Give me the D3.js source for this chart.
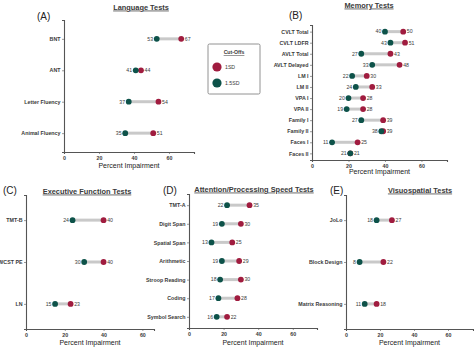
<!DOCTYPE html>
<html>
<head>
<meta charset="utf-8">
<script src="https://cdn.jsdelivr.net/npm/d3@7"></script>
<style>
  body { margin: 0; background: #fff; }
  svg text { font-family: "Liberation Sans", Arial, sans-serif; }
</style>
</head>
<body>
<div id="chart"></div>
<script>
const W = 474, H = 348;
const RED = "#a01c3f", GREEN = "#0d5249", SEG = "#c9c9c9", INK = "#3a3a3a";

// test names and % impaired at each cut-off (1.5SD = low, 1SD = high)
const langTests = ["BNT", "ANT", "Letter Fluency", "Animal Fluency"];
const lang15 = [53, 41, 37, 35];
const lang1 = [67, 44, 54, 51];

const memTests = ["CVLT Total", "CVLT LDFR", "AVLT Total", "AVLT Delayed", "LM I", "LM II",
  "VPA I", "VPA II", "Family I", "Family II", "Faces I", "Faces II"];
const mem15 = [40, 43, 27, 33, 22, 24, 20, 19, 27, 38, 11, 21];
const mem1 = [50, 51, 43, 48, 30, 33, 28, 28, 39, 39, 25, 21];

const execTests = ["TMT-B", "WCST PE", "LN"];
const exec15 = [24, 30, 15];
const exec1 = [40, 40, 23];

const attnTests = ["TMT-A", "Digit Span", "Spatial Span", "Arithmetic", "Stroop Reading", "Coding", "Symbol Search"];
const attn15 = [22, 19, 13, 19, 18, 17, 16];
const attn1 = [35, 30, 25, 29, 30, 28, 22];

const visTests = ["JoLo", "Block Design", "Matrix Reasoning"];
const vis15 = [18, 8, 11];
const vis1 = [27, 22, 18];

const xTicks = [0, 20, 40, 60];

const svg = d3.select("#chart").append("svg")
  .attr("width", W).attr("height", H);

const panels = [
  { tag: "(A)", title: "Language Tests", tests: langTests, lo: lang15, hi: lang1,
    box: [64, 194, 20, 152], xmax: 74.3, titleAt: [141, 7], tagAt: [37, 20], xlabY: 168 },
  { tag: "(B)", title: "Memory Tests", tests: memTests, lo: mem15, hi: mem1,
    box: [312, 447, 25, 160], xmax: 74, titleAt: [369, 5], tagAt: [289, 19], xlabY: 174 },
  { tag: "(C)", title: "Executive Function Tests", tests: execTests, lo: exec15, hi: exec1,
    box: [26, 154, 195, 329], xmax: 66, titleAt: [87, 191], tagAt: [3, 194], xlabY: 345 },
  { tag: "(D)", title: "Attention/Processing Speed Tests", tests: attnTests, lo: attn15, hi: attn1,
    box: [189, 317, 194, 328], xmax: 74, titleAt: [254, 189], tagAt: [163, 194], xlabY: 345 },
  { tag: "(E)", title: "Visuospatial Tests", tests: visTests, lo: vis15, hi: vis1,
    box: [346, 473, 195, 329], xmax: 74.7, titleAt: [420, 190], tagAt: [330, 194], xlabY: 345 }
];

panels.forEach(p => {
  const [x0, x1, y0, y1] = p.box;
  const x = d3.scaleLinear().domain([0, p.xmax]).range([x0, x1]);
  const y = d3.scalePoint().domain(p.tests).range([y0, y1]).padding(0.6);
  const g = svg.append("g");

  // axes
  const xa = g.append("g").attr("transform", `translate(0,${y1})`)
    .call(d3.axisBottom(x).tickValues(xTicks).tickSize(2).tickPadding(2));
  const ya = g.append("g").attr("transform", `translate(${x0},0)`)
    .call(d3.axisLeft(y).tickSize(2).tickPadding(1.5));
  [xa, ya].forEach(a => {
    a.select(".domain").attr("stroke", "#555").attr("stroke-width", 1.1);
    a.selectAll(".tick line").attr("stroke", "#555").attr("stroke-width", 0.6);
    a.selectAll("text").attr("fill", INK).style("font-size", "5.3px").style("font-weight", "bold");
  });

  const rows = p.tests.map((t, i) => ({ t, lo: p.lo[i], hi: p.hi[i] }));

  // dumbbell segments
  g.selectAll(".seg").data(rows).enter().append("line")
    .attr("x1", d => x(d.lo)).attr("x2", d => x(d.hi))
    .attr("y1", d => y(d.t)).attr("y2", d => y(d.t))
    .attr("stroke", SEG).attr("stroke-width", 3);

  g.selectAll(".hi").data(rows).enter().append("circle")
    .attr("cx", d => x(d.hi)).attr("cy", d => y(d.t)).attr("r", 2.9).attr("fill", RED);
  g.selectAll(".lo").data(rows).enter().append("circle")
    .attr("cx", d => x(d.lo)).attr("cy", d => y(d.t)).attr("r", 2.9).attr("fill", GREEN);

  // value labels
  g.selectAll(".lol").data(rows).enter().append("text")
    .attr("x", d => x(d.lo) - 3.6).attr("y", d => y(d.t)).attr("dy", "0.35em")
    .attr("text-anchor", "end").style("font-size", "5.2px").attr("fill", INK)
    .text(d => d.lo);
  g.selectAll(".hil").data(rows).enter().append("text")
    .attr("x", d => x(d.hi) + 3.6).attr("y", d => y(d.t)).attr("dy", "0.35em")
    .style("font-size", "5.2px").attr("fill", INK)
    .text(d => d.hi);

  // title, tag and x label
  g.append("text").attr("x", p.titleAt[0]).attr("y", p.titleAt[1])
    .attr("text-anchor", "middle").attr("dy", "0.35em")
    .style("font-size", "7.4px").style("font-weight", "bold").attr("fill", INK)
    .attr("text-decoration", "underline").text(p.title);
  g.append("text").attr("x", p.tagAt[0]).attr("y", p.tagAt[1])
    .style("font-size", "10px").attr("fill", "#222").text(p.tag);
  g.append("text").attr("x", (x0 + x1) / 2).attr("y", p.xlabY)
    .attr("text-anchor", "middle").style("font-size", "7px").attr("fill", "#222")
    .text("Percent Impairment");
});

// legend
const lg = svg.append("g").attr("transform", "translate(208,44)");
lg.append("rect").attr("width", 52).attr("height", 50).attr("rx", 1.5)
  .attr("fill", "#fff").attr("stroke", "#777").attr("stroke-width", 0.8);
lg.append("text").attr("x", 26).attr("y", 10).attr("text-anchor", "middle")
  .style("font-size", "5.2px").style("font-weight", "bold").attr("fill", INK)
  .attr("text-decoration", "underline").text("Cut-Offs");
const cuts = [{ k: "1SD", c: RED }, { k: "1.5SD", c: GREEN }];
cuts.forEach((d, i) => {
  lg.append("circle").attr("cx", 9).attr("cy", 23 + i * 16).attr("r", 4.6).attr("fill", d.c);
  lg.append("text").attr("x", 17).attr("y", 23 + i * 16).attr("dy", "0.35em")
    .style("font-size", "5.2px").attr("fill", INK).text(d.k);
});
</script>
</body>
</html>
